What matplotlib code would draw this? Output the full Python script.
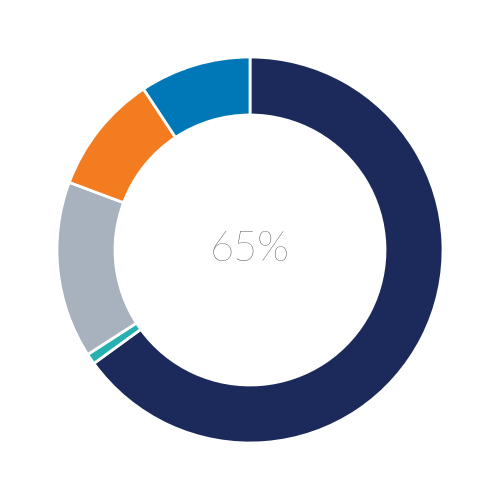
import matplotlib
matplotlib.use("Agg")
import matplotlib.pyplot as plt

labels = ["Navy", "Teal", "Grey", "Orange", "Blue"]
values = [65.0, 0.9, 14.8, 10.0, 9.3]
colors = ["#1b2a5a", "#26b0b0", "#a8b2bf", "#f47c20", "#0077b6"]

fig = plt.figure(figsize=(5, 5), dpi=100)
ax = fig.add_axes([0, 0, 1, 1])
ax.pie(values, colors=colors, startangle=90, counterclock=False, radius=0.772,
       center=(0, 0),
       wedgeprops=dict(width=0.232, edgecolor="white", linewidth=2))
ax.text(0, 0, "65%", ha="center", va="center", fontsize=30, color="#404448",
        family="Lato", fontweight="light")
ax.set_xlim(-1, 1)
ax.set_ylim(-1, 1)
ax.set_aspect("equal")
ax.axis("off")
fig.savefig("out.png", dpi=100, facecolor="white")
